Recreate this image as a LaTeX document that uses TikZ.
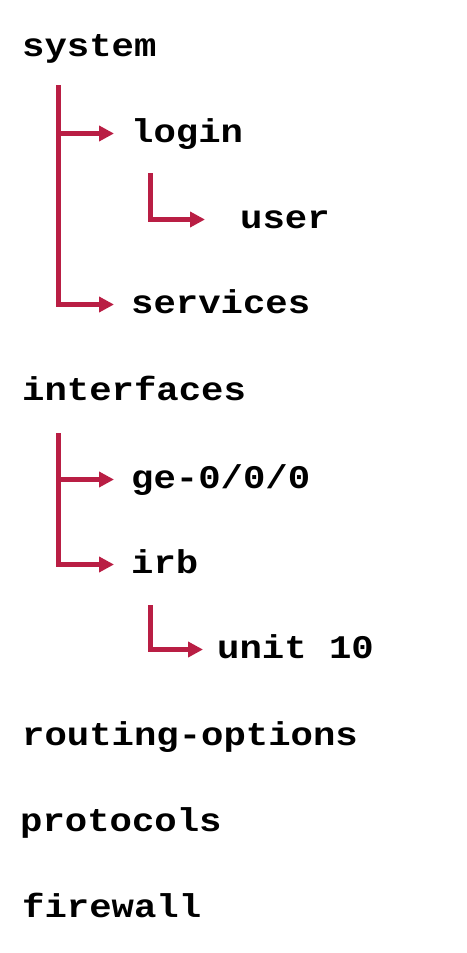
\documentclass[tikz,border=0pt]{standalone}
\usepackage{fontspec}
\setmonofont{Liberation Mono}[FakeStretch=1.13]
\usetikzlibrary{arrows.meta}

\definecolor{branchred}{RGB}{185,30,68}

\tikzset{
  item/.style={anchor=base west, inner sep=0pt, text height=24pt, text depth=7pt,
               font=\fontsize{33}{36}\selectfont\ttfamily\bfseries},
  branch/.style={draw=branchred, line width=4.5pt,
                 -{Triangle[length=15pt,width=15pt]}, branchred}
}

\begin{document}
\begin{tikzpicture}[x=1pt,y=-1pt]

\useasboundingbox (0,0) rectangle (466,953);

\def\rootx{22}
\def\subx{131}
\def\stemx{58.5}
\def\substemx{150.5}

% top level
\node[item] (system)     at (\rootx,56)  {system};
\node[item] (interfaces) at (\rootx,400) {interfaces};
\node[item] (routing)    at (\rootx,745) {routing-options};
\node[item] (protocols)  at (\rootx-2,831) {protocols};
\node[item] (firewall)   at (\rootx,917) {firewall};

% second level
\node[item] (login)    at (\subx,142) {login};
\node[item] (services) at (\subx,313) {services};
\node[item] (ge)       at (\subx,488) {ge-0/0/0};
\node[item] (irb)      at (\subx,573) {irb};

% third level
\node[item] (user)   at (240,228) {user};
\node[item] (unit)   at (217,658) {unit 10};

% stems
\coordinate (system-stem)     at (\stemx,85);
\coordinate (login-stem)      at (\substemx,173);
\coordinate (interfaces-stem) at (\stemx,433);
\coordinate (irb-stem)        at (\substemx,605);

\draw[branch, shorten >=17pt] (system-stem) |- (login.west);
\draw[branch, shorten >=17pt] (system-stem) |- (services.west);
\draw[branch, shorten >=35pt] (login-stem) |- (user.west);

\draw[branch, shorten >=17pt] (interfaces-stem) |- (ge.west);
\draw[branch, shorten >=17pt] (interfaces-stem) |- (irb.west);
\draw[branch, shorten >=14pt] (irb-stem) |- (unit.west);

\end{tikzpicture}
\end{document}
